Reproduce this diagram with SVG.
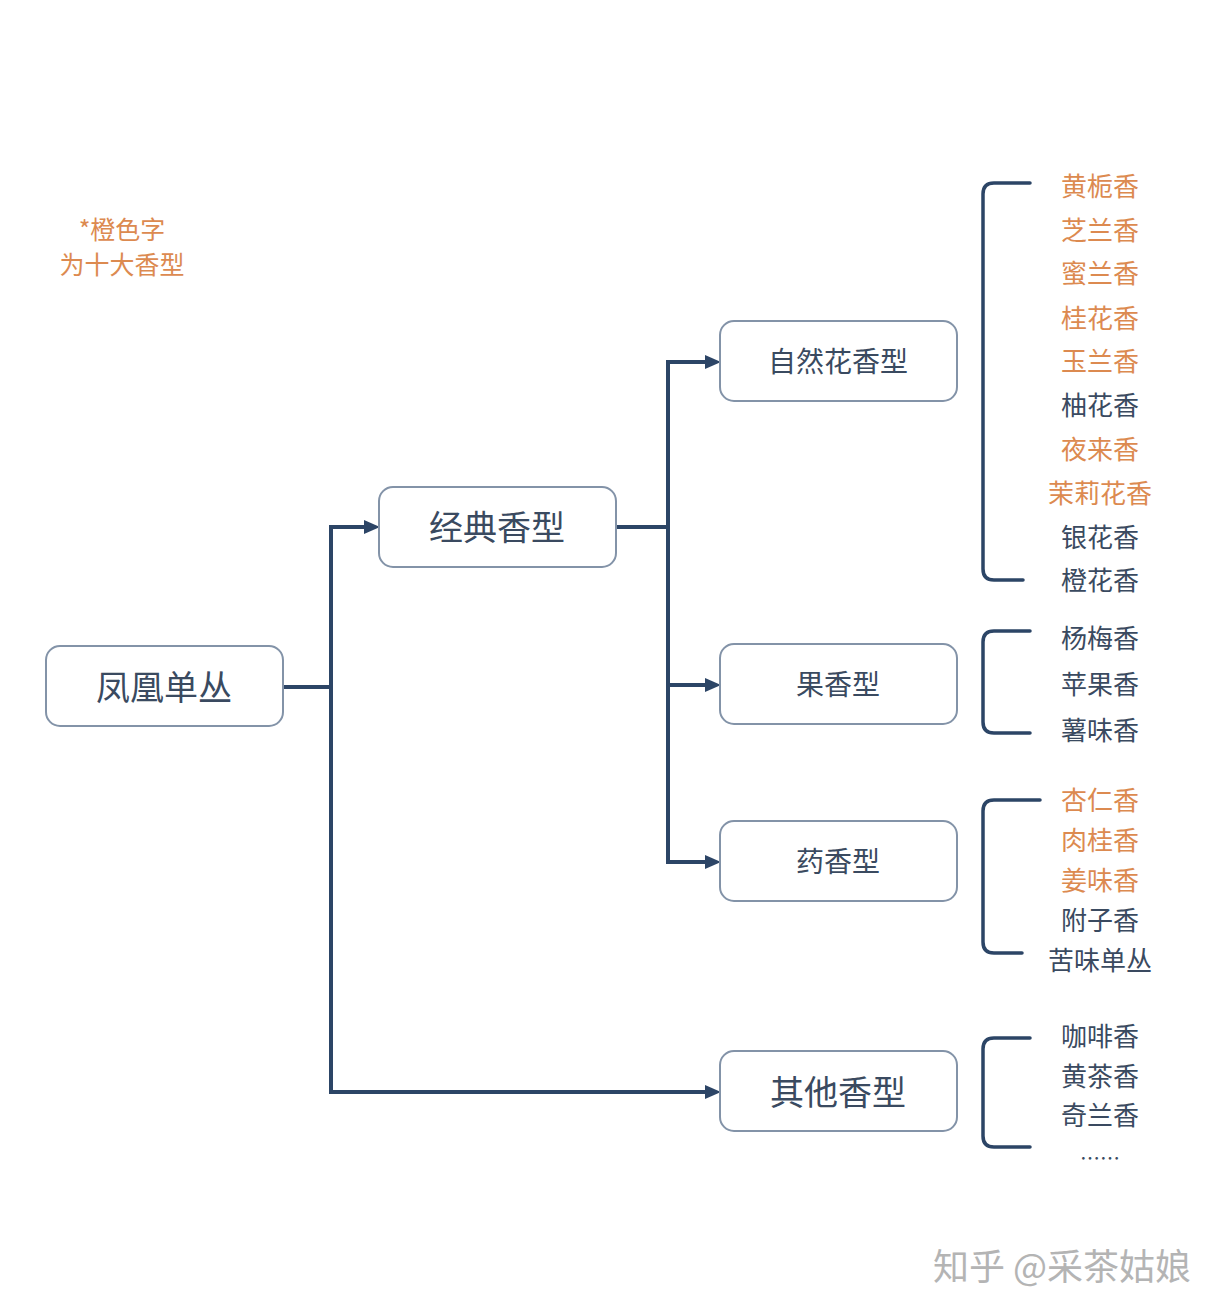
<svg xmlns="http://www.w3.org/2000/svg" width="1223" height="1315" viewBox="0 0 1223 1315">
  <style>
    .bg { fill: #ffffff; }
    .node rect { fill: #ffffff; stroke: #8393a8; stroke-width: 2; }
    .node text { font-family: "Noto Sans CJK SC", "Noto Sans", sans-serif; fill: #3a4a60; text-anchor: middle; dominant-baseline: central; }
    .big { font-size: 34px; }
    .mid { font-size: 28px; }
    .conn path { fill: none; stroke: #2c4566; stroke-width: 4; }
    .br path { fill: none; stroke: #2c4566; stroke-width: 3.5; stroke-linecap: round; }
    .item { font-family: "Noto Sans CJK SC", "Noto Sans", sans-serif; font-size: 26px; text-anchor: middle; dominant-baseline: central; }
    .note { font-family: "Noto Sans CJK SC", "Noto Sans", sans-serif; font-size: 25px; text-anchor: middle; dominant-baseline: central; fill: #dc8a50; }
    .o { fill: #dc8a50; }
    .d { fill: #3a4a60; }
    .wm { font-family: "Noto Sans CJK SC", "Noto Sans", sans-serif; font-size: 36px; fill: #b4b4b4; }
  </style>
  <defs>
    <marker id="arr" markerUnits="userSpaceOnUse" markerWidth="16" markerHeight="14" refX="0" refY="6.5" orient="auto" viewBox="0 0 15 13">
      <path d="M0,0 L15,6.5 L0,13 z" fill="#2c4566"/>
    </marker>
  </defs>
  <rect class="bg" x="0" y="0" width="1223" height="1315"/>

  <g id="note">
    <text class="note" x="122" y="228">*橙色字</text>
    <text class="note" x="122" y="263">为十大香型</text>
  </g>

  <g id="connectors" class="conn">
    <path d="M283,687 H331"/>
    <path d="M331,687 V527 H364" marker-end="url(#arr)"/>
    <path d="M331,687 V1092 H705" marker-end="url(#arr)"/>
    <path d="M616,527 H668"/>
    <path d="M668,527 V362 H705" marker-end="url(#arr)"/>
    <path d="M668,527 V862 H705" marker-end="url(#arr)"/>
    <path d="M668,685 H705" marker-end="url(#arr)"/>
  </g>

  <g id="node-root" class="node">
    <rect x="46" y="646" width="237" height="80" rx="14"/>
    <text class="big" x="164" y="685">凤凰单丛</text>
  </g>
  <g id="node-classic" class="node">
    <rect x="379" y="487" width="237" height="80" rx="14"/>
    <text class="big" x="497" y="525">经典香型</text>
  </g>
  <g id="node-floral" class="node">
    <rect x="720" y="321" width="237" height="80" rx="14"/>
    <text class="mid" x="838" y="360">自然花香型</text>
  </g>
  <g id="node-fruit" class="node">
    <rect x="720" y="644" width="237" height="80" rx="14"/>
    <text class="mid" x="838" y="683">果香型</text>
  </g>
  <g id="node-herbal" class="node">
    <rect x="720" y="821" width="237" height="80" rx="14"/>
    <text class="mid" x="838" y="860">药香型</text>
  </g>
  <g id="node-other" class="node">
    <rect x="720" y="1051" width="237" height="80" rx="14"/>
    <text class="big" x="838" y="1090">其他香型</text>
  </g>

  <g id="brackets" class="br">
    <path d="M1030,183 H994 Q983,183 983,194 V569 Q983,580 994,580 H1023"/>
    <path d="M1030,631 H994 Q983,631 983,642 V722 Q983,733 994,733 H1030"/>
    <path d="M1040,800 H994 Q983,800 983,811 V942 Q983,953 994,953 H1022"/>
    <path d="M1030,1038 H994 Q983,1038 983,1049 V1136 Q983,1147 994,1147 H1030"/>
  </g>

  <g id="list-floral">
    <text class="item o" x="1100" y="184">黄栀香</text>
    <text class="item o" x="1100" y="228">芝兰香</text>
    <text class="item o" x="1100" y="271">蜜兰香</text>
    <text class="item o" x="1100" y="316">桂花香</text>
    <text class="item o" x="1100" y="359">玉兰香</text>
    <text class="item d" x="1100" y="403">柚花香</text>
    <text class="item o" x="1100" y="447">夜来香</text>
    <text class="item o" x="1100" y="491">茉莉花香</text>
    <text class="item d" x="1100" y="535">银花香</text>
    <text class="item d" x="1100" y="578">橙花香</text>
  </g>
  <g id="list-fruit">
    <text class="item d" x="1100" y="636">杨梅香</text>
    <text class="item d" x="1100" y="682">苹果香</text>
    <text class="item d" x="1100" y="728">薯味香</text>
  </g>
  <g id="list-herbal">
    <text class="item o" x="1100" y="798">杏仁香</text>
    <text class="item o" x="1100" y="838">肉桂香</text>
    <text class="item o" x="1100" y="878">姜味香</text>
    <text class="item d" x="1100" y="918">附子香</text>
    <text class="item d" x="1100" y="958">苦味单丛</text>
  </g>
  <g id="list-other">
    <text class="item d" x="1100" y="1034">咖啡香</text>
    <text class="item d" x="1100" y="1074">黄茶香</text>
    <text class="item d" x="1100" y="1113">奇兰香</text>
    <text class="item d" x="1100" y="1157" style="font-size:20px">……</text>
  </g>

  <g id="watermark">
    <text class="wm" x="933" y="1280">知乎 @采茶姑娘</text>
  </g>
</svg>
